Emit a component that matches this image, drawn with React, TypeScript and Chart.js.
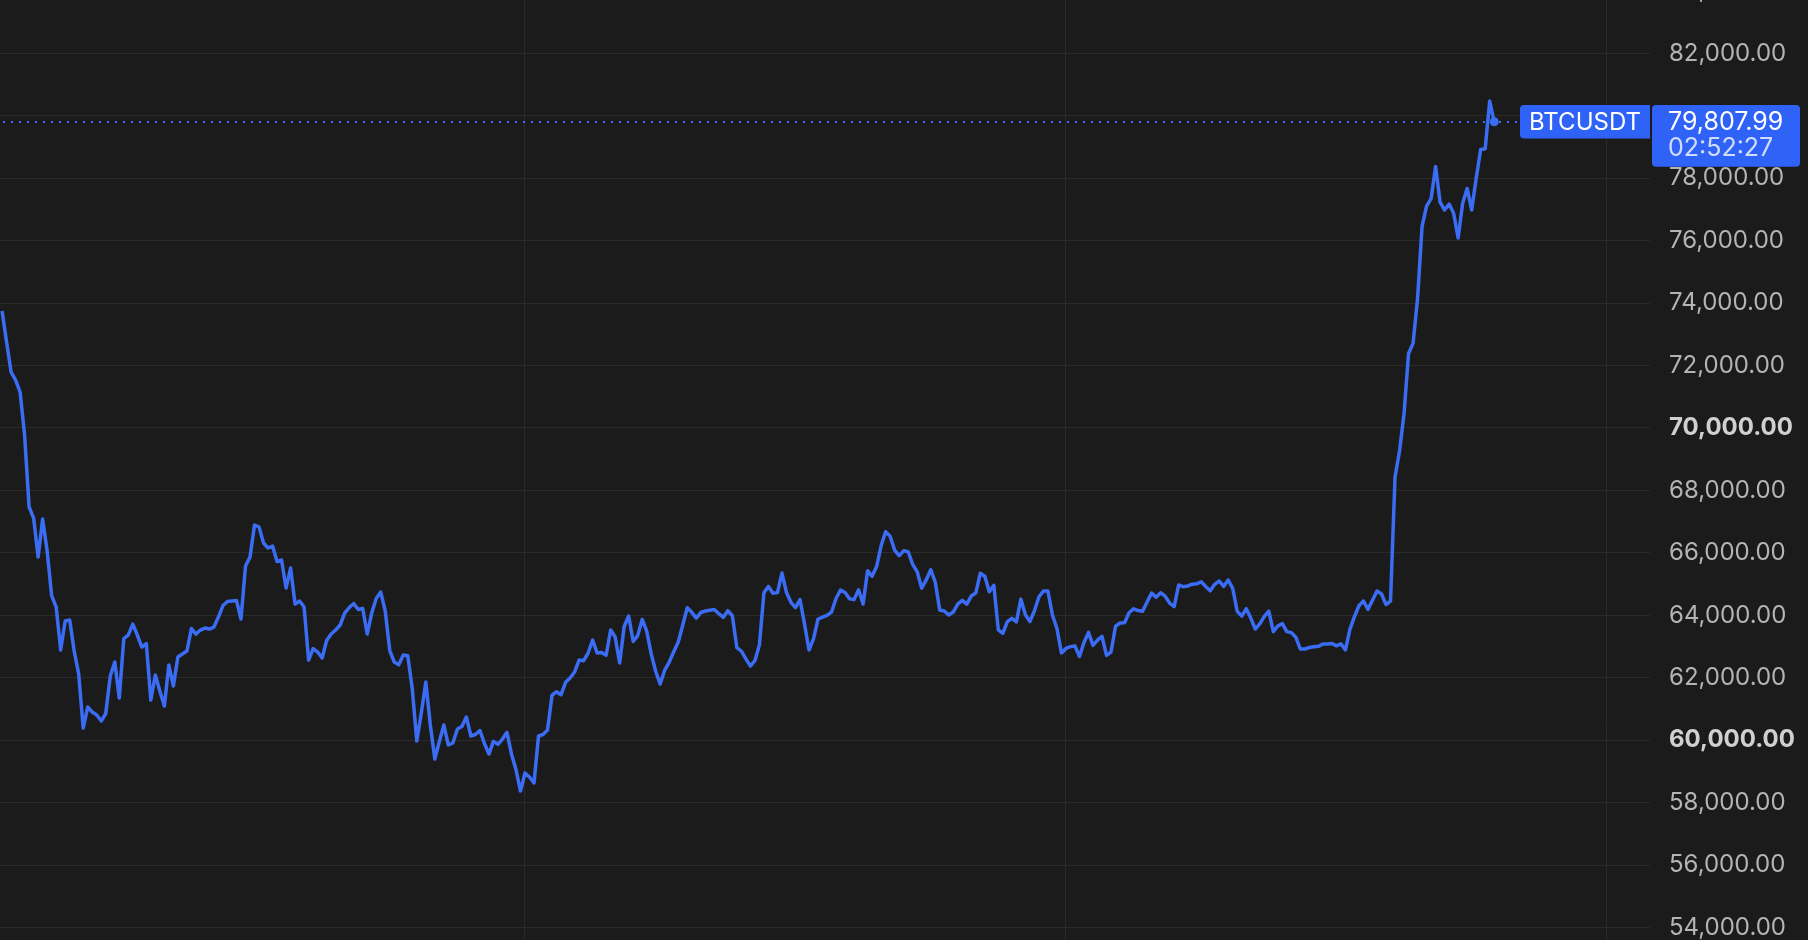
import React, { useEffect, useRef } from 'react';
import Chart from 'chart.js/auto';

// BTCUSDT price, one value per step
const prices = [
  73746, 72753, 71792, 71536, 71151, 69774, 67468, 67115, 65866, 67083,
  66058, 64633, 64265, 62887, 63816, 63848, 62855, 62119, 60389, 61062,
  60902, 60806, 60613, 60854, 62055, 62503, 61350, 63256, 63368, 63720,
  63368, 62984, 63096, 61286, 62087, 61574, 61094, 62407, 61734, 62663,
  62760, 62855, 63576, 63400, 63528, 63592, 63560, 63624, 63944, 64313,
  64441, 64457, 64473, 63880, 65578, 65866, 66892, 66828, 66315, 66155,
  66219, 65722, 65771, 64874, 65514, 64361, 64457, 64265, 62567, 62936,
  62823, 62632, 63192, 63400, 63528, 63688, 64073, 64249, 64377, 64185,
  64217, 63400, 64073, 64537, 64745, 64137, 62872, 62504, 62417, 62728,
  62705, 61638, 59973, 60870, 61862, 60485, 59396, 59957, 60485, 59845,
  59909, 60357, 60437, 60741, 60133, 60181, 60309, 59893, 59556, 59963,
  59867, 60037, 60251, 59560, 59060, 58371, 58947, 58820, 58628, 60133,
  60181, 60325, 61446, 61552, 61456, 61852, 61991, 62183, 62567, 62545,
  62791, 63208, 62791, 62811, 62721, 63528, 63304, 62471, 63640, 63976,
  63160, 63349, 63868, 63496, 62766, 62199, 61798, 62247, 62503, 62830,
  63147, 63688, 64243, 64096, 63912, 64089, 64137, 64163, 64185, 64051,
  63936, 64147, 63986, 62962, 62855, 62605, 62375, 62545, 63048, 64719,
  64925, 64707, 64726, 65354, 64732, 64415, 64249, 64505, 63726, 62888,
  63246, 63880, 63938, 63996, 64105, 64537, 64806, 64732, 64531, 64502,
  64819, 64361, 65428, 65249, 65562, 66225, 66677, 66533, 66088, 65908,
  66065, 66036, 65629, 65396, 64870, 65133, 65460, 65066, 64169, 64140,
  64009, 64105, 64361, 64480, 64358, 64617, 64713, 65347, 65251, 64758,
  64963, 63535, 63422, 63797, 63903, 63791, 64518, 64015, 63800, 64137,
  64585, 64777, 64777, 64009, 63576, 62795, 62939, 62996, 63019, 62680,
  63128, 63451, 63038, 63202, 63323, 62715, 62824, 63649, 63752, 63762,
  64083, 64207, 64153, 64127, 64428, 64710, 64582, 64723, 64614, 64393,
  64278, 64970, 64918, 64937, 64998, 65008, 65075, 64925, 64784, 64992,
  65098, 64928, 65130, 64854, 64121, 63976, 64211, 63912, 63560, 63726,
  63963, 64137, 63474, 63659, 63733, 63477, 63445, 63295, 62920, 62920,
  62968, 62993, 63006, 63080, 63083, 63099, 63022, 63086, 62894, 63557,
  63960, 64306, 64457, 64191, 64480, 64777, 64681, 64345, 64457, 68429,
  69262, 70456, 72388, 72711, 74146, 76455, 77109, 77346, 78374, 77231,
  76981, 77173, 76881, 76084, 77196, 77672, 76984, 77990, 78922, 78944,
  80472, 79807.99,
];

const symbol = 'BTCUSDT';
const countdown = '02:52:27';
const priceTicks = [54000, 56000, 58000, 60000, 62000, 64000, 66000, 68000, 70000, 72000, 74000, 76000, 78000, 80000, 82000, 84000];
const dayBreaks = [116, 236, 356]; // index of the vertical separators

const BG = '#1b1b1c';
const GRID = '#2a2a2b';
const BLUE = '#3a6cf4';
const BOX = '#2f62f6';
const FONT = 'Inter';

const fmt = (v: number) =>
  v.toLocaleString('en-US', { minimumFractionDigits: 2, maximumFractionDigits: 2 });

const lastPricePlugin = {
  id: 'lastPrice',
  beforeDatasetsDraw(chart: any) {
    const { ctx, chartArea, scales } = chart;
    const last = prices[prices.length - 1];
    const y = Math.round(scales.y.getPixelForValue(last));
    ctx.save();
    ctx.fillStyle = BLUE;
    for (let x = chartArea.left + 3; x < chartArea.right - 130; x += 8) {
      ctx.fillRect(x, y - 1, 2, 2);
    }
    ctx.restore();
  },
  afterDraw(chart: any) {
    const { ctx, chartArea, scales } = chart;
    const last = prices[prices.length - 1];
    const y = scales.y.getPixelForValue(last);
    const r = chartArea.right;
    ctx.save();
    ctx.fillStyle = BOX;
    ctx.beginPath();
    ctx.roundRect(r - 130, y - 16.7, 130, 33.3, [4, 0, 0, 4]);
    ctx.fill();
    ctx.beginPath();
    ctx.roundRect(r + 2, y - 16.7, 148, 61.7, 4);
    ctx.fill();
    ctx.textBaseline = 'middle';
    ctx.textAlign = 'left';
    ctx.font = `24px ${FONT}`;
    ctx.fillStyle = '#ffffff';
    ctx.fillText(symbol, r - 121, y + 1);
    ctx.font = `25px ${FONT}`;
    ctx.fillText(fmt(last), r + 18, y + 1);
    ctx.fillStyle = 'rgba(255,255,255,0.78)';
    ctx.fillText(countdown, r + 18, y + 27);
    ctx.restore();
  },
};

const App: React.FC = () => {
  const chartRef = useRef<HTMLCanvasElement>(null);

  useEffect(() => {
    document.body.style.background = BG;
    if (!chartRef.current) return;
    const ctx = chartRef.current.getContext('2d');
    if (!ctx) return;

    const last = prices.length - 1;
    const chart = new Chart(ctx, {
      type: 'line',
      data: {
        datasets: [{
          data: prices.map((p, i) => ({ x: i, y: p })),
          borderColor: BLUE,
          backgroundColor: BLUE,
          borderWidth: 3.5,
          borderJoinStyle: 'round',
          tension: 0,
          pointRadius: (c: any) => (c.dataIndex === last ? 4.5 : 0),
          pointBorderWidth: 0,
        }],
      },
      options: {
        animation: false,
        responsive: true,
        maintainAspectRatio: false,
        layout: { padding: 0, autoPadding: false },
        plugins: { legend: { display: false }, tooltip: { enabled: false } },
        scales: {
          x: {
            type: 'linear',
            min: -0.459,
            max: 365.56,
            border: { display: false },
            grid: { color: GRID, drawTicks: false },
            ticks: { display: false },
            afterBuildTicks: (s: any) => { s.ticks = dayBreaks.map(v => ({ value: v })); },
            afterFit: (s: any) => {
              s.height = 0;
              s.paddingLeft = 0; s.paddingRight = 0; s.paddingTop = 0; s.paddingBottom = 0;
            },
          },
          y: {
            type: 'linear',
            position: 'right',
            min: 51998,
            max: 86015,
            border: { display: false },
            grid: { color: GRID, drawTicks: false },
            afterBuildTicks: (s: any) => { s.ticks = priceTicks.map(v => ({ value: v })); },
            afterFit: (s: any) => {
              s.width = 158;
              s.paddingTop = 0; s.paddingBottom = 0;
            },
            ticks: {
              padding: 19,
              color: (c: any) => (c.tick && c.tick.value % 10000 === 0 ? '#d0d0d0' : '#b4b4b4'),
              font: (c: any) => ({
                family: FONT,
                size: 24,
                weight: c.tick && c.tick.value % 10000 === 0 ? 'bold' : 'normal',
              }),
              callback: (v: any) => fmt(Number(v)),
            },
          },
        },
      },
      plugins: [lastPricePlugin],
    } as any);

    return () => chart.destroy();
  }, []);

  return (
    <div style={{ position: 'fixed', left: 0, top: -72, width: 1808, height: 1062, background: BG }}>
      <canvas ref={chartRef} />
    </div>
  );
};

export default App;
